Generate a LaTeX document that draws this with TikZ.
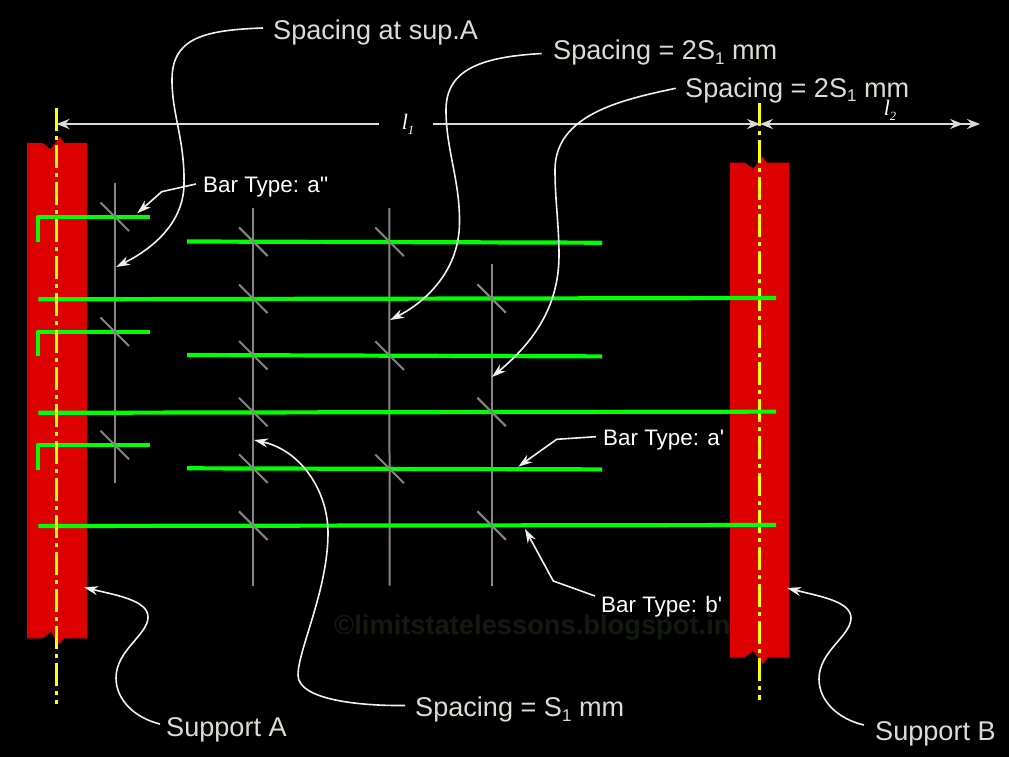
\documentclass[tikz,border=0pt]{standalone}
\usepackage{fontspec}
\setmainfont{Liberation Sans}
\newfontfamily\plainfont{Liberation Sans}
\newfontfamily\timesfont{Liberation Serif}
\usetikzlibrary{arrows.meta}
\definecolor{supportred}{HTML}{DD0000}
\definecolor{bargreen}{HTML}{00FF00}
\definecolor{axisyellow}{HTML}{FFFF00}
\definecolor{stirrupgrey}{HTML}{858585}
\definecolor{labelgrey}{HTML}{DCDCD4}
\definecolor{leaderwhite}{HTML}{F0F0F0}
\definecolor{markgreen}{HTML}{131A0F}
\newcommand{\subone}{\raisebox{-4.5pt}{\fontsize{17}{17}\selectfont 1}}
\newcommand{\ellsub}[1]{{\timesfont\itshape l\raisebox{-5pt}{\fontsize{12.5}{12.5}\selectfont #1}}}
\tikzset{
  support/.style={fill=supportred,draw=none},
  axisline/.style={axisyellow,line width=3pt,dash pattern=on 23pt off 5.2pt on 3.6pt off 5.2pt},
  stirrup/.style={stirrupgrey,line width=2pt},
  rebar/.style={bargreen,line width=4.2pt,line join=round},
  bigtext/.style={text=labelgrey,font=\fontsize{27.1}{27}\selectfont,anchor=base west,inner sep=0pt},
  smalltext/.style={text=white,font=\plainfont\fontsize{22.4}{23}\selectfont,anchor=base west,inner sep=0pt},
  dimtext/.style={text=white,font=\fontsize{22}{22}\selectfont,anchor=center,inner sep=0pt},
  dimline/.style={draw=labelgrey,line width=2pt},
  dimtip/.tip={Stealth[length=13pt,width=10pt,inset=4.5pt,fill=labelgrey]},
  leader/.style={draw=leaderwhite,line width=1.6pt,-{Stealth[length=14pt,width=9pt,inset=4.5pt,fill=leaderwhite]}},
}
\begin{document}
\begin{tikzpicture}[x=1pt,y=-1pt]
\useasboundingbox (0,0) rectangle (1009,757);
\fill[black] (0,0) rectangle (1009,757);

% supports
\fill[support] (27,143) -- (42.3,143) -- (50.7,149.3) -- (60,136.7) -- (64,143) -- (87,143)
  -- (87,638.3) -- (64,638.3) -- (59.5,644) -- (50.7,631.7) -- (42.3,638.3) -- (27,638.3) -- cycle;
\fill[support] (730,162.7) -- (745,162.7) -- (753.3,168.7) -- (762.7,156.7) -- (766.7,162.7) -- (789.4,162.7)
  -- (789.4,657.7) -- (767.3,657.7) -- (763.3,664) -- (753.3,651) -- (744,657.7) -- (730,657.7) -- cycle;

\node[text=markgreen,font=\bfseries\fontsize{27.3}{27}\selectfont,anchor=base west,inner sep=0pt] (mark) at (334,634) {©limitstatelessons.blogspot.in};

% axis of support B lies under the bars
\coordinate (axBtop) at (759.5,103);
\coordinate (axBbot) at (759.5,700);
\draw[axisline] (axBtop) -- (axBbot);

% stirrups
\coordinate (s1top) at (114.7,182.7);
\coordinate (s2top) at (253.3,208);
\coordinate (s3top) at (389.3,208);
\coordinate (s4top) at (491.6,264);
\coordinate (s1bot) at (114.7,482.7);
\coordinate (s2bot) at (253.3,585.7);
\coordinate (s3bot) at (389.6,585.7);
\coordinate (s4bot) at (491.6,585.7);
\draw[stirrup] (s1top) -- (s1bot);
\draw[stirrup] (s2top) -- (s2bot);
\draw[stirrup] (s3top) -- (s3bot);
\draw[stirrup] (s4top) -- (s4bot);

% bars
\draw[rebar] (38.3,241.7) -- (38.3,216.7) -- (150,216.7);
\draw[rebar] (38.3,356) -- (38.3,331.7) -- (150,331.7);
\draw[rebar] (38.3,469.5) -- (38.3,445) -- (150,445);
\draw[rebar] (187,241.5) -- (602,242.7);
\draw[rebar] (187,355) -- (602,356.4);
\draw[rebar] (187,468.3) -- (602,469.4);
\draw[rebar] (38.3,299.3) -- (776,298);
\draw[rebar] (38.3,412.8) -- (776,411.6);
\draw[rebar] (38.3,526) -- (776,525);

% bar ticks
\foreach \x/\y in {114.7/216.7,114.7/331.7,114.7/445,
  253.3/241.7,253.3/298.8,253.3/355.3,253.3/412,253.3/468.6,253.3/525.7,
  389.6/241.9,389.6/355.6,389.6/468.9,
  491.6/298.5,491.6/412,491.6/525.5}{
  \draw[stirrup] (\x-14.3,\y-14.3) -- (\x+14.3,\y+14.3);
}

% axis of support A lies over the bars
\coordinate (axAtop) at (56.5,108);
\coordinate (axAbot) at (56.5,704);
\draw[axisline] (axAtop) -- (axAbot);

% dimension lines
\node[dimtext] (l1) at (408,124) {\ellsub{1}};
\node[dimtext] (l2) at (890,110) {\ellsub{2}};
\coordinate (dimA) at (56.5,124);
\coordinate (dimB) at (760,124);
\coordinate (dimC) at (980,124);
\coordinate (gapL) at (379,124);
\coordinate (gapR) at (433,124);
\draw[dimline,-{dimtip}] (gapL) -- (dimA);
\draw[dimline,-{dimtip}] (gapR) -- (dimB);
\draw[dimline,{dimtip}-{dimtip[sep=4pt]dimtip}] (dimB) -- (dimC);

% labels
\node[bigtext] (supA) at (273,40) {Spacing at sup.A};
\node[bigtext] (sp2a) at (553,60) {Spacing = 2S\subone{} mm};
\node[bigtext] (sp2b) at (685,97.5) {Spacing = 2S\subone{} mm};
\node[bigtext] (sp1) at (415,716.5) {Spacing = S\subone{} mm};
\node[bigtext] (suppA) at (166,736.5) {Support A};
\node[bigtext] (suppB) at (875,740) {Support B};
\node[smalltext] (barA) at (203,192) {Bar Type: a''};
\node[smalltext] (barB) at (603,445) {Bar Type: a'};
\node[smalltext] (barC) at (601,612) {Bar Type: b'};

% leader anchors
\coordinate (supAs) at (263,28);
\coordinate (supAe) at (116,267);
\coordinate (sp2as) at (541.7,53.5);
\coordinate (sp2ae) at (390,320);
\coordinate (sp2bs) at (675.7,88.3);
\coordinate (sp2be) at (492,377);
\coordinate (sp1s) at (405,705.5);
\coordinate (sp1e) at (254,440);
\coordinate (suppAs) at (160,724);
\coordinate (suppAe) at (84,587.3);
\coordinate (suppBs) at (864,725);
\coordinate (suppBe) at (787,588);
\coordinate (barAs) at (196,184);
\coordinate (barAe) at (137.3,213.3);
\coordinate (barBs) at (596,436.7);
\coordinate (barBe) at (518.3,466.7);
\coordinate (barCs) at (595,596);
\coordinate (barCe) at (525,529);

\draw[leader] (supAs) .. controls (200,30) and (172,40) .. (172,80) .. controls (172,115) and (185,140) .. (184,185) .. controls (183,225) and (150,250) .. (supAe);
\draw[leader] (sp2as) .. controls (480,57) and (446,70) .. (446,110) .. controls (446,150) and (460,180) .. (459.5,223) .. controls (459,275) and (420,305) .. (sp2ae);
\draw[leader] (sp2bs) .. controls (620,100) and (555,115) .. (555,170) .. controls (555,200) and (559,225) .. (559,255) .. controls (559,310) and (530,345) .. (sp2be);
\draw[leader] (sp1s) .. controls (360,706) and (298,700) .. (298,675) .. controls (298,650) and (328,590) .. (328,533) .. controls (328,490) and (300,450) .. (sp1e);
\draw[leader] (suppAs) .. controls (135,718) and (116,700) .. (116,678) .. controls (116,650) and (148,635) .. (148,617) .. controls (148,600) and (115,595) .. (suppAe);
\draw[leader] (suppBs) .. controls (838,719) and (819,701) .. (819,679) .. controls (819,651) and (851,636) .. (851,618) .. controls (851,601) and (818,596) .. (suppBe);
\draw[leader] (barAs) -- (161.7,191.7) -- (barAe);
\draw[leader] (barBs) -- (556.7,439.3) -- (barBe);
\draw[leader] (barCs) -- (553.3,581) -- (barCe);
\end{tikzpicture}
\end{document}
